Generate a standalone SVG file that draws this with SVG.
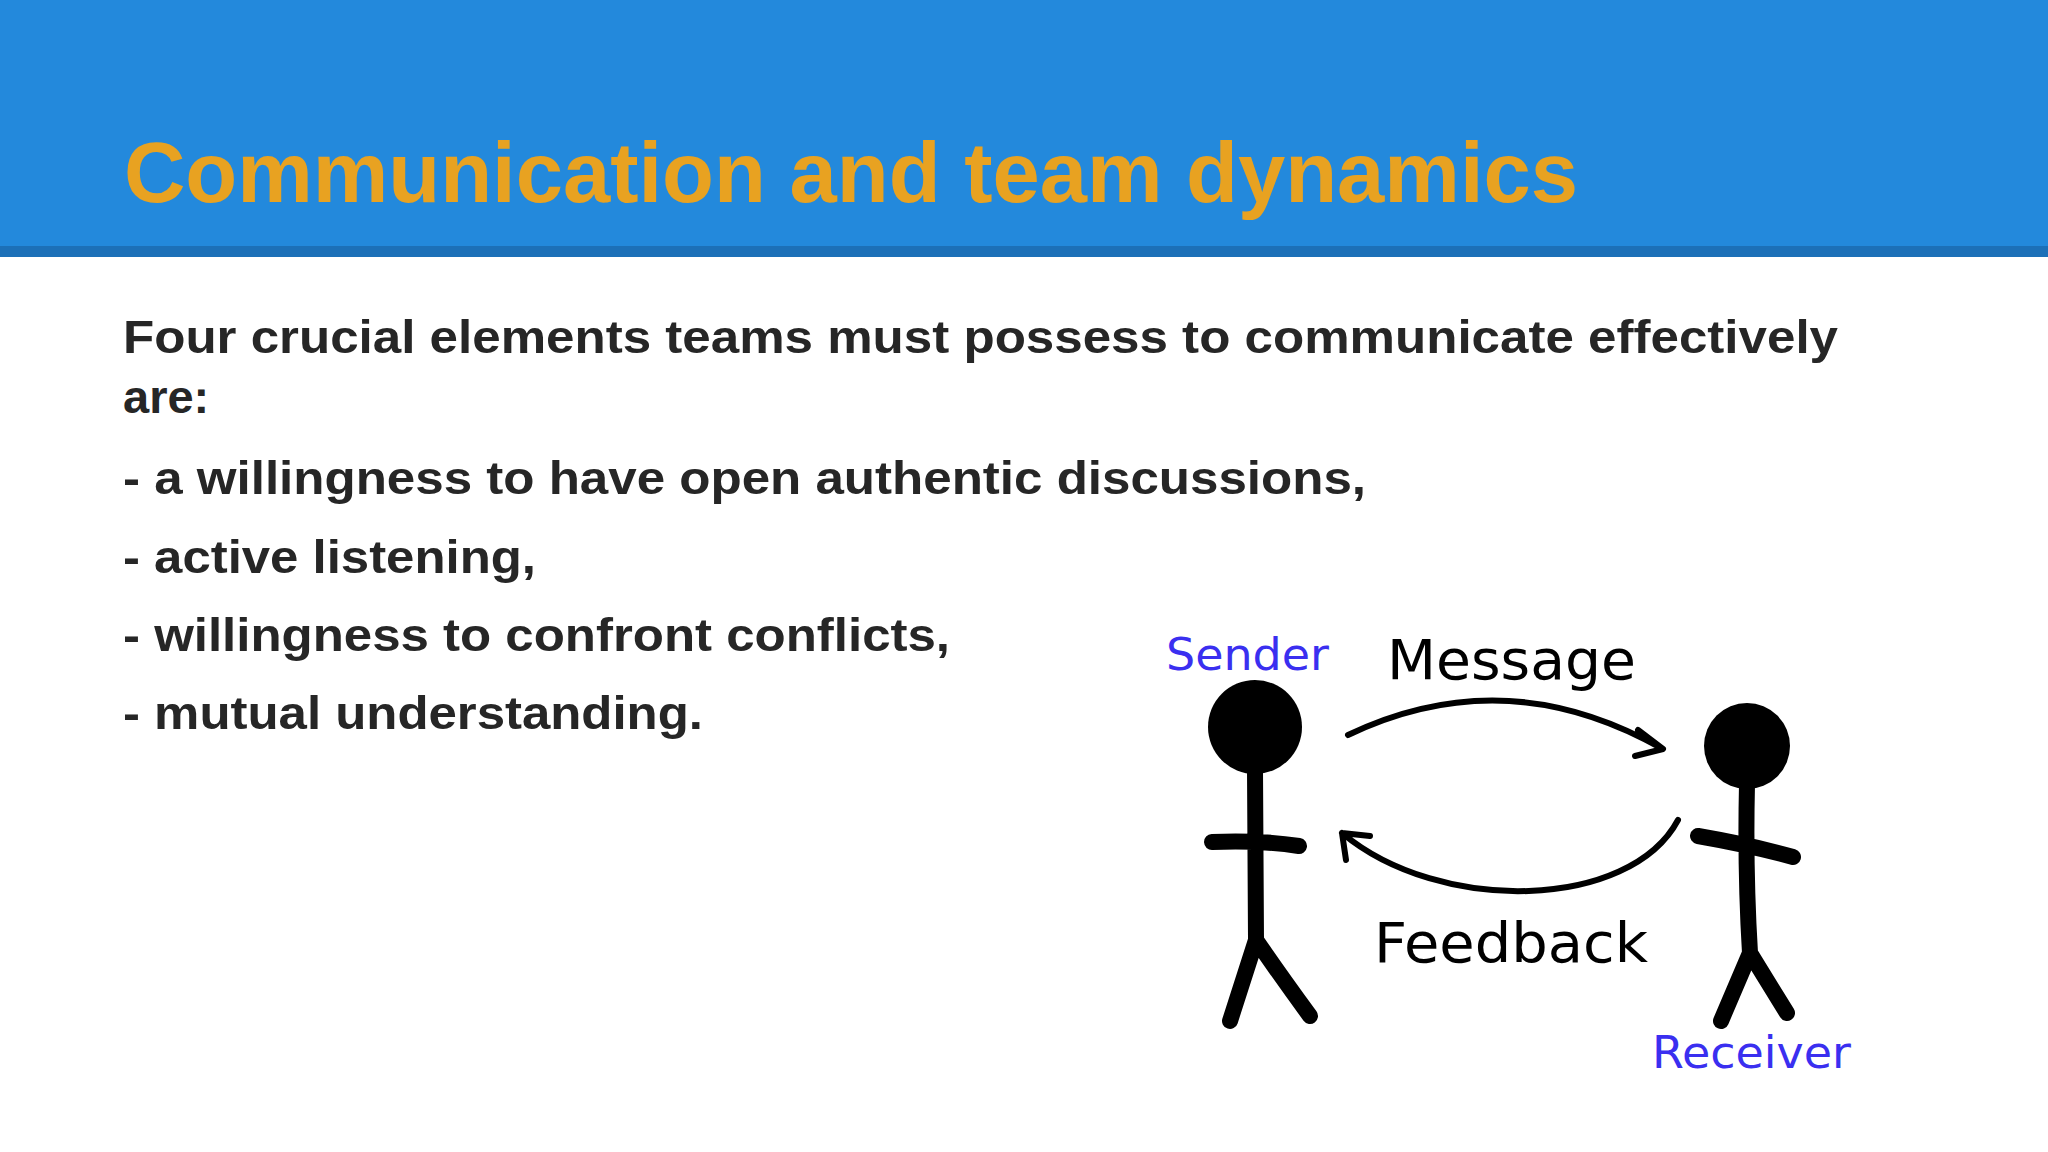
<svg xmlns="http://www.w3.org/2000/svg" width="2048" height="1152" viewBox="0 0 2048 1152">
<style>
.b{font-family:"Liberation Sans",Arial,sans-serif;font-weight:bold;font-size:47px;fill:#262626}
.l{font-family:"DejaVu Sans",sans-serif;fill:#000}
.bl{font-family:"DejaVu Sans",sans-serif;fill:#3a2ff0}
.fig{stroke:#000;stroke-width:16;stroke-linecap:round;fill:none}
.arr{stroke:#000;stroke-width:6;stroke-linecap:round;stroke-linejoin:round;fill:none}
</style>
<rect width="2048" height="1152" fill="#fff"/>
<g id="header">
<rect width="2048" height="246" fill="#2389dc"/>
<rect y="246" width="2048" height="11" fill="#1c70b8"/>
<text x="124" y="202" font-family="Liberation Sans,Arial,sans-serif" font-weight="bold" font-size="86" fill="#e8a221" textLength="1454" lengthAdjust="spacingAndGlyphs">Communication and team dynamics</text>
</g>
<g id="body">
<text class="b" x="123" y="353" textLength="1715" lengthAdjust="spacingAndGlyphs">Four crucial elements teams must possess to communicate effectively</text>
<text class="b" x="123" y="413">are:</text>
<text class="b" x="123" y="494" textLength="1243" lengthAdjust="spacingAndGlyphs">- a willingness to have open authentic discussions,</text>
<text class="b" x="123" y="573" textLength="413" lengthAdjust="spacingAndGlyphs">- active listening,</text>
<text class="b" x="123" y="651" textLength="827" lengthAdjust="spacingAndGlyphs">- willingness to confront conflicts,</text>
<text class="b" x="123" y="729" textLength="580" lengthAdjust="spacingAndGlyphs">- mutual understanding.</text>
</g>
<g id="sender">
<circle cx="1255" cy="727" r="47" fill="#000"/>
<path class="fig" d="M1255,770 L1256,940 M1212,842 Q1260,840 1299,846 M1256,940 L1230,1021 M1256,940 Q1280,975 1310,1016"/>
<text class="bl" x="1166" y="670" font-size="44" textLength="163" lengthAdjust="spacingAndGlyphs">Sender</text>
</g>
<g id="receiver">
<circle cx="1747" cy="746" r="43" fill="#000"/>
<path class="fig" d="M1747,784 Q1745,870 1750,953 M1698,836 Q1750,845 1793,857 M1750,953 L1721,1021 M1750,953 L1787,1013"/>
<text class="bl" x="1652" y="1068" font-size="44" textLength="199" lengthAdjust="spacingAndGlyphs">Receiver</text>
</g>
<g id="connectors">
<path class="arr" d="M1348,735 Q1505,660 1661,748 M1638,730 L1663,749 L1635,756"/>
<path class="arr" d="M1678,820 C1630,910 1440,915 1342,833 M1342,833 L1346,860 M1342,833 L1370,836"/>
<text class="l" x="1387" y="679" font-size="56" textLength="249" lengthAdjust="spacingAndGlyphs">Message</text>
<text class="l" x="1374" y="962" font-size="56" textLength="274" lengthAdjust="spacingAndGlyphs">Feedback</text>
</g>
</svg>
